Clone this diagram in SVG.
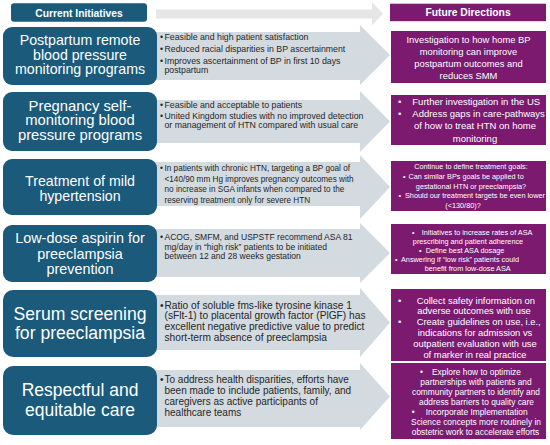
<svg xmlns="http://www.w3.org/2000/svg" width="550" height="445" viewBox="0 0 550 445">
<style>
text{font-family:"Liberation Sans",Arial,sans-serif}
.cur{fill:#1b5a7a}
.fut{fill:#7b1a6f}
.arr{fill:#d3dae0}
.harr{fill:#e6e6e6}
.ct{fill:#fff;text-anchor:middle}
.hd{fill:#fff;font-weight:bold;font-size:10.3px;text-anchor:middle}
.g{fill:#262626}
.w{fill:#fff}
.m{text-anchor:middle}
</style>
<rect width="550" height="445" fill="#fff"/>
<g id="connectors">
<polygon class="harr" points="156,9.5 372,9.5 372,2 383,13.8 372,25.5 372,18.5 156,18.5"/>
<polygon class="arr" points="150,32 360,32 360,25 390,55 360,85 360,80 150,80"/>
<polygon class="arr" points="150,100 360,100 360,91 390,121.5 360,152 360,143 150,143"/>
<polygon class="arr" points="150,162 360,162 360,155 390,187 360,219 360,206 150,206"/>
<polygon class="arr" points="150,229 360,229 360,223 390,253 360,283 360,277 150,277"/>
<polygon class="arr" points="150,295 360,295 360,288 390,322.5 360,357 360,350 150,350"/>
<polygon class="arr" points="150,370 360,370 360,363 390,396.5 360,430 360,427 150,427"/>
</g>
<g id="header-current">
<rect class="cur" x="11" y="3.3" width="136" height="18.5" rx="3"/>
<text class="hd" x="79" y="16.5">Current Initiatives</text>
</g>
<g id="header-future">
<rect class="fut" x="390" y="3.7" width="156" height="17.5"/>
<text class="hd" x="468" y="16.3">Future Directions</text>
</g>

<g id="current-1">
<rect class="cur" x="3" y="27" width="154" height="58" rx="9"/>
<text class="ct" font-size="14.2" x="80"><tspan x="80" y="45">Postpartum remote</tspan><tspan x="80" y="59.5">blood pressure</tspan><tspan x="80" y="74">monitoring programs</tspan></text>
</g>
<g id="evidence-1" class="g" font-size="8.75">
<text x="160" y="39.5">•</text><text x="164.5" y="39.5">Feasible and high patient satisfaction</text>
<text x="160" y="52">•</text><text x="164.5" y="52">Reduced racial disparities in BP ascertainment</text>
<text x="160" y="63.5">•</text><text x="164.5" y="63.5">Improves ascertainment of BP in first 10 days</text>
<text x="164.5" y="73">postpartum</text>
</g>
<g id="future-1">
<rect class="fut" x="391" y="31" width="155" height="52"/>
<text class="w m" font-size="9.4"><tspan x="468.5" y="43">Investigation to how home BP</tspan><tspan x="468.5" y="55">monitoring can improve</tspan><tspan x="468.5" y="67">postpartum outcomes and</tspan><tspan x="468.5" y="79">reduces SMM</tspan></text>
</g>

<g id="current-2">
<rect class="cur" x="3" y="92" width="154" height="59" rx="9"/>
<text class="ct" font-size="14.8"><tspan x="80" y="110.5">Pregnancy self-</tspan><tspan x="80" y="125">monitoring blood</tspan><tspan x="80" y="139.5">pressure programs</tspan></text>
</g>
<g id="evidence-2" class="g" font-size="8.75">
<text x="160" y="107.5">•</text><text x="164.5" y="107.5">Feasible and acceptable to patients</text>
<text x="160" y="118.5">•</text><text x="164.5" y="118.5">United Kingdom studies with no improved detection</text>
<text x="164.5" y="127.5">or management of HTN compared with usual care</text>
</g>
<g id="future-2" class="w" font-size="9.5">
<rect class="fut" x="391" y="95" width="155" height="50"/>
<text x="398" y="104.5">•</text><text x="412.3" y="104.5">Further investigation in the US</text>
<text x="398" y="116.5">•</text><text x="412.3" y="116.5">Address gaps in care-pathways</text>
<text class="m" x="475" y="129">of how to treat HTN on home</text>
<text class="m" x="475" y="141.5">monitoring</text>
</g>

<g id="current-3">
<rect class="cur" x="3" y="159" width="154" height="56" rx="9"/>
<text class="ct" font-size="14.2"><tspan x="80" y="185.5">Treatment of mild</tspan><tspan x="80" y="200.5">hypertension</tspan></text>
</g>
<g id="evidence-3" class="g" font-size="8.2">
<text x="160" y="171">•</text><text x="164.5" y="171">In patients with chronic HTN, targeting a BP goal of</text>
<text x="164.5" y="181.5">&lt;140/90 mm Hg improves pregnancy outcomes with</text>
<text x="164.5" y="192">no increase in SGA infants when compared to the</text>
<text x="164.5" y="202.5">reserving treatment only for severe HTN</text>
</g>
<g id="future-3" class="w" font-size="7.3">
<rect class="fut" x="391" y="161" width="155" height="50"/>
<text class="m" x="471" y="169">Continue to define treatment goals:</text>
<text x="403" y="179">•</text><text x="408.5" y="179">Can similar BPs goals be applied to</text>
<text class="m" x="471" y="188.5">gestational HTN or preeclampsia?</text>
<text x="398.5" y="198">•</text><text x="405" y="198">Should our treatment targets be even lower</text>
<text class="m" x="463" y="207.5">(&lt;130/80)?</text>
</g>

<g id="current-4">
<rect class="cur" x="3" y="225" width="154" height="57" rx="9"/>
<text class="ct" font-size="14.4"><tspan x="80" y="243">Low-dose aspirin for</tspan><tspan x="80" y="258.5">preeclampsia</tspan><tspan x="80" y="274">prevention</tspan></text>
</g>
<g id="evidence-4" class="g" font-size="8.55">
<text x="160" y="239.5">•</text><text x="164.5" y="239.5">ACOG, SMFM, and USPSTF recommend ASA 81</text>
<text x="164.5" y="249.5">mg/day in “high risk” patients to be initiated</text>
<text x="164.5" y="259">between 12 and 28 weeks gestation</text>
</g>
<g id="future-4" class="w" font-size="7.3">
<rect class="fut" x="391" y="224" width="155" height="50"/>
<text x="412" y="235">•</text><text x="421.7" y="235">Initiatives to increase rates of ASA</text>
<text class="m" x="468" y="244">prescribing and patient adherence</text>
<text x="419" y="252.5">•</text><text x="425.7" y="252.5">Define best ASA dosage</text>
<text x="395" y="261.5">•</text><text x="401" y="261.5">Answering if “low risk” patients could</text>
<text class="m" x="467.7" y="270.5">benefit from low-dose ASA</text>
</g>

<g id="current-5">
<rect class="cur" x="3" y="290" width="154" height="67" rx="10"/>
<text class="ct" font-size="17.6"><tspan x="80" y="320">Serum screening</tspan><tspan x="80" y="339">for preeclampsia</tspan></text>
</g>
<g id="evidence-5" class="g" font-size="10.2">
<text x="160" y="308.5">•</text><text x="164.5" y="308.5">Ratio of soluble fms-like tyrosine kinase 1</text>
<text x="164.5" y="319.3">(sFlt-1) to placental growth factor (PlGF) has</text>
<text x="164.5" y="330.1">excellent negative predictive value to predict</text>
<text x="164.5" y="340.9">short-term absence of preeclampsia</text>
</g>
<g id="future-5" class="w" font-size="9.4">
<rect class="fut" x="391" y="289" width="155" height="72"/>
<text x="398" y="303.5">•</text><text x="416.7" y="303.5">Collect safety information on</text>
<text class="m" x="474" y="314.3">adverse outcomes with use</text>
<text x="398" y="325.1">•</text><text x="416.7" y="325.1">Create guidelines on use, i.e.,</text>
<text class="m" x="475" y="335.9">indications for admission vs</text>
<text class="m" x="475" y="346.7">outpatient evaluation with use</text>
<text class="m" x="475" y="357.5">of marker in real practice</text>
</g>

<g id="current-6">
<rect class="cur" x="3" y="366" width="154" height="69" rx="10"/>
<text class="ct" font-size="17.5"><tspan x="80" y="396">Respectful and</tspan><tspan x="80" y="416">equitable care</tspan></text>
</g>
<g id="evidence-6" class="g" font-size="10">
<text x="160" y="383">•</text><text x="164.5" y="383">To address health disparities, efforts have</text>
<text x="164.5" y="394">been made to include patients, family, and</text>
<text x="164.5" y="404.8">caregivers as active participants of</text>
<text x="164.5" y="415.6">healthcare teams</text>
</g>
<g id="future-6" class="w" font-size="8.4">
<rect class="fut" x="391" y="363" width="155" height="76"/>
<text x="420" y="374.5">•</text><text x="432" y="374.5">Explore how to optimize</text>
<text class="m" x="476" y="384.6">partnerships with patients and</text>
<text class="m" x="476" y="394.7">community partners to identify and</text>
<text class="m" x="476.5" y="404.8">address barriers to quality care</text>
<text x="411.7" y="414.9">•</text><text x="425.7" y="414.9">Incorporate Implementation</text>
<text class="m" x="476" y="425">Science concepts more routinely in</text>
<text class="m" x="475.5" y="435.1">obstetric work to accelerate efforts</text>
</g>
</svg>
